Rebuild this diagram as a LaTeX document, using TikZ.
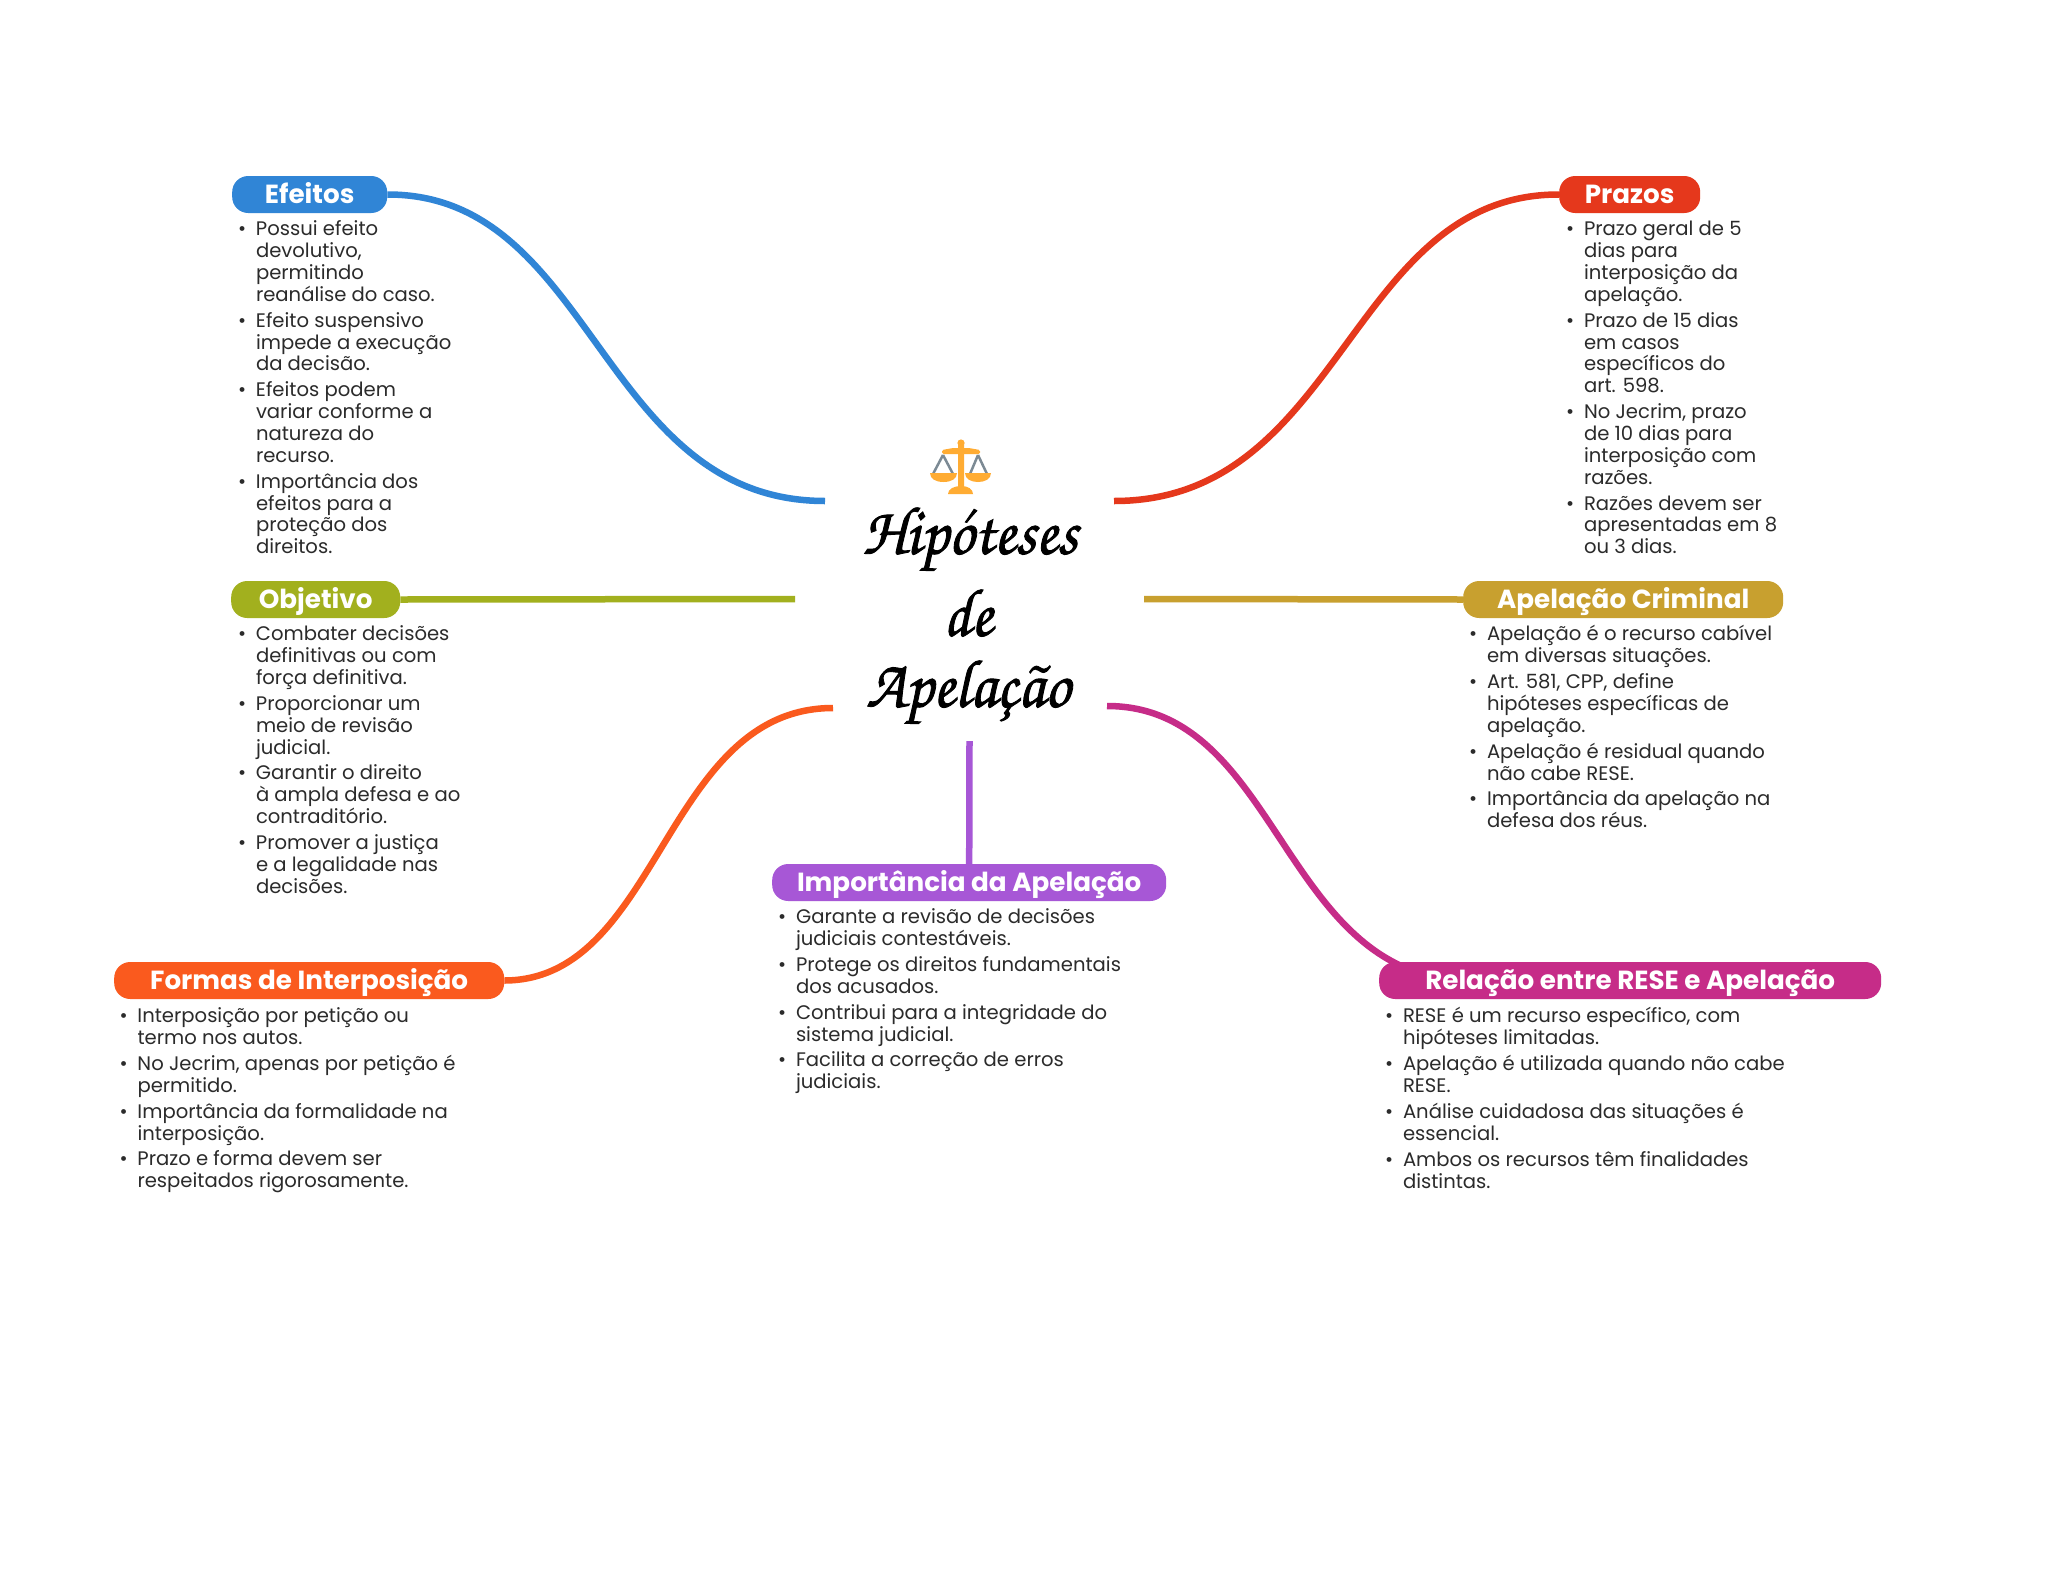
\documentclass[tikz,border=0pt]{standalone}
\usepackage[T1]{fontenc}
\usepackage{fontspec}
\setmainfont{Poppins}
\newfontfamily\pillfont{Poppins}[BoldFont={Poppins Bold}]
\usepackage{array}
\usetikzlibrary{backgrounds}
\newcommand{\titlefont}{\fontencoding{T1}\fontfamily{pzc}\fontseries{m}\fontshape{it}\fontsize{68}{76}\selectfont}
\newcommand{\heavy}[1]{\special{pdf:literal direct 2 Tr 0.9 w}#1\special{pdf:literal direct 0 Tr 1 w}}
\newcommand{\B}{\textbullet&}
\newcommand{\C}{&}
\newcommand{\G}{\\[4pt]}
\newenvironment{blist}{\fontsize{19.6}{21.85}\selectfont\color{listink}\begin{tabular}{@{}p{13pt}@{\hspace{5pt}}l@{}}}{\end{tabular}}
\definecolor{listink}{HTML}{2B2B2B}
\definecolor{cblue}{HTML}{3085D6}
\definecolor{cred}{HTML}{E5381C}
\definecolor{colive}{HTML}{A2B01E}
\definecolor{cgold}{HTML}{C8A02F}
\definecolor{cpurple}{HTML}{A757D6}
\definecolor{corange}{HTML}{FA5A1E}
\definecolor{cmagenta}{HTML}{C62C88}
\definecolor{scaleor}{HTML}{FFAC33}
\definecolor{scalegr}{HTML}{7C8A94}
\tikzset{
 pill/.style={rounded corners=16pt,minimum height=37pt,inner sep=0pt,text height=22pt,text depth=4pt,text=white,font=\pillfont\fontsize{26.2}{30}\selectfont\bfseries,anchor=west},
 listnode/.style={anchor=north west,inner sep=0pt,outer sep=0pt},
 link/.style={line width=6.5pt},
 titleline/.style={inner sep=0pt},
}
\begin{document}
\begin{tikzpicture}[x=1pt,y=-1pt]
\useasboundingbox (0,0) rectangle (2048,1569);
% free ends at the centre
\coordinate (eA) at (825,501);
\coordinate (eB) at (1114,501);
\coordinate (eC) at (795,599);
\coordinate (eD) at (1144,599);
\coordinate (eE) at (833,708);
\coordinate (eF) at (1107,706);
\coordinate (eG) at (969.5,741);
% pills
\node[pill,fill=cblue,minimum width=155pt] (efeitos) at (232,194.5) {Efeitos};
\node[pill,fill=cred,minimum width=141pt] (prazos) at (1559,194.5) {Prazos};
\node[pill,fill=colive,minimum width=169pt] (objetivo) at (231,599.5) {Objetivo};
\node[pill,fill=cgold,minimum width=320pt] (criminal) at (1463,599.5) {Apelação Criminal};
\node[pill,fill=cpurple,minimum width=394pt] (importancia) at (772,882.5) {Importância da Apelação};
\node[pill,fill=corange,minimum width=390pt] (formas) at (114,980.5) {Formas de Interposição};
\node[pill,fill=cmagenta,minimum width=502pt] (relacao) at (1379,980.5) {Relação entre RESE e Apelação};
\coordinate (mEnd) at (1470,980.5);
% connectors, behind the pills
\begin{scope}[on background layer]
\fill[white] (0,0) rectangle (2048,1569);
\draw[link,cblue] (efeitos.east) .. controls (594,194) and (600,501) .. (eA);
\draw[link,cred] (prazos.west) .. controls (1349,194) and (1343,501) .. (eB);
\draw[link,colive] (objetivo.east) -- (eC);
\draw[link,cgold] (criminal.west) -- (eD);
\draw[link,corange] (formas.east) .. controls (660,980) and (664,708) .. (eE);
\draw[link,cmagenta] (eF) .. controls (1281,706) and (1281,980) .. (mEnd);
\draw[link,cpurple] (eG) -- (importancia.north);
\end{scope}
% lists
\node[listnode] (l1) at (238,220.5) {\begin{blist}
\B Possui efeito\\ \C devolutivo,\\ \C permitindo\\ \C reanálise do caso.\G
\B Efeito suspensivo\\ \C impede a execução\\ \C da decisão.\G
\B Efeitos podem\\ \C variar conforme a\\ \C natureza do\\ \C recurso.\G
\B Importância dos\\ \C efeitos para a\\ \C proteção dos\\ \C direitos.
\end{blist}};
\node[listnode] (l2) at (238,625.5) {\begin{blist}
\B Combater decisões\\ \C definitivas ou com\\ \C força definitiva.\G
\B Proporcionar um\\ \C meio de revisão\\ \C judicial.\G
\B Garantir o direito\\ \C à ampla defesa e ao\\ \C contraditório.\G
\B Promover a justiça\\ \C e a legalidade nas\\ \C decisões.
\end{blist}};
\node[listnode] (l3) at (119.5,1007.5) {\begin{blist}
\B Interposição por petição ou\\ \C termo nos autos.\G
\B No Jecrim, apenas por petição é\\ \C permitido.\G
\B Importância da formalidade na\\ \C interposição.\G
\B Prazo e forma devem ser\\ \C respeitados rigorosamente.
\end{blist}};
\node[listnode] (l4) at (778,908.5) {\begin{blist}
\B Garante a revisão de decisões\\ \C judiciais contestáveis.\G
\B Protege os direitos fundamentais\\ \C dos acusados.\G
\B Contribui para a integridade do\\ \C sistema judicial.\G
\B Facilita a correção de erros\\ \C judiciais.
\end{blist}};
\node[listnode] (l5) at (1566,220.5) {\begin{blist}
\B Prazo geral de 5\\ \C dias para\\ \C interposição da\\ \C apelação.\G
\B Prazo de 15 dias\\ \C em casos\\ \C específicos do\\ \C art. 598.\G
\B No Jecrim, prazo\\ \C de 10 dias para\\ \C interposição com\\ \C razões.\G
\B Razões devem ser\\ \C apresentadas em 8\\ \C ou 3 dias.
\end{blist}};
\node[listnode] (l6) at (1469,625.5) {\begin{blist}
\B Apelação é o recurso cabível\\ \C em diversas situações.\G
\B Art. 581, CPP, define\\ \C hipóteses específicas de\\ \C apelação.\G
\B Apelação é residual quando\\ \C não cabe RESE.\G
\B Importância da apelação na\\ \C defesa dos réus.
\end{blist}};
\node[listnode] (l7) at (1385,1007.5) {\begin{blist}
\B RESE é um recurso específico, com\\ \C hipóteses limitadas.\G
\B Apelação é utilizada quando não cabe\\ \C RESE.\G
\B Análise cuidadosa das situações é\\ \C essencial.\G
\B Ambos os recursos têm finalidades\\ \C distintas.
\end{blist}};
% title
\node[titleline] (t1) at (970,540) {\scalebox{.93}[1]{\titlefont\heavy{Hipóteses}}};
\node[titleline] (t2) at (968,612) {\scalebox{.93}[1]{\titlefont\heavy{de}}};
\node[titleline] (t3) at (968,693) {\scalebox{.93}[1]{\titlefont\heavy{Apelação}}};
% scales icon
\begin{scope}[shift={(961,467)}]
 \draw[scalegr,line width=2.5pt] (-18,-12) -- (-28,7) (-18,-12) -- (-8,7);
 \draw[scalegr,line width=2.5pt] (17,-12) -- (9,7) (17,-12) -- (26,7);
 \fill[scaleor,rounded corners=1pt] (-3,-24) rectangle (3,24);
 \fill[scaleor] (0,-24) circle (3.6);
 \fill[scaleor,rounded corners=1.5pt] (-19,-17) -- (-8,-19) -- (8,-19) -- (19,-17) -- (19,-13) -- (-19,-13) -- cycle;
 \fill[scaleor] (-31,6) -- (-4,6) .. controls (-4,12) and (-10,15) .. (-17.5,15) .. controls (-25,15) and (-31,12) .. (-31,6) -- cycle;
 \fill[scaleor] (4,6) -- (30,6) .. controls (30,12) and (24,15) .. (17,15) .. controls (10,15) and (4,12) .. (4,6) -- cycle;
 \fill[scaleor] (-13,27) .. controls (-13,22) and (-7,19) .. (0,19) .. controls (7,19) and (12,22) .. (12,27) -- cycle;
\end{scope}
\end{tikzpicture}
\end{document}
